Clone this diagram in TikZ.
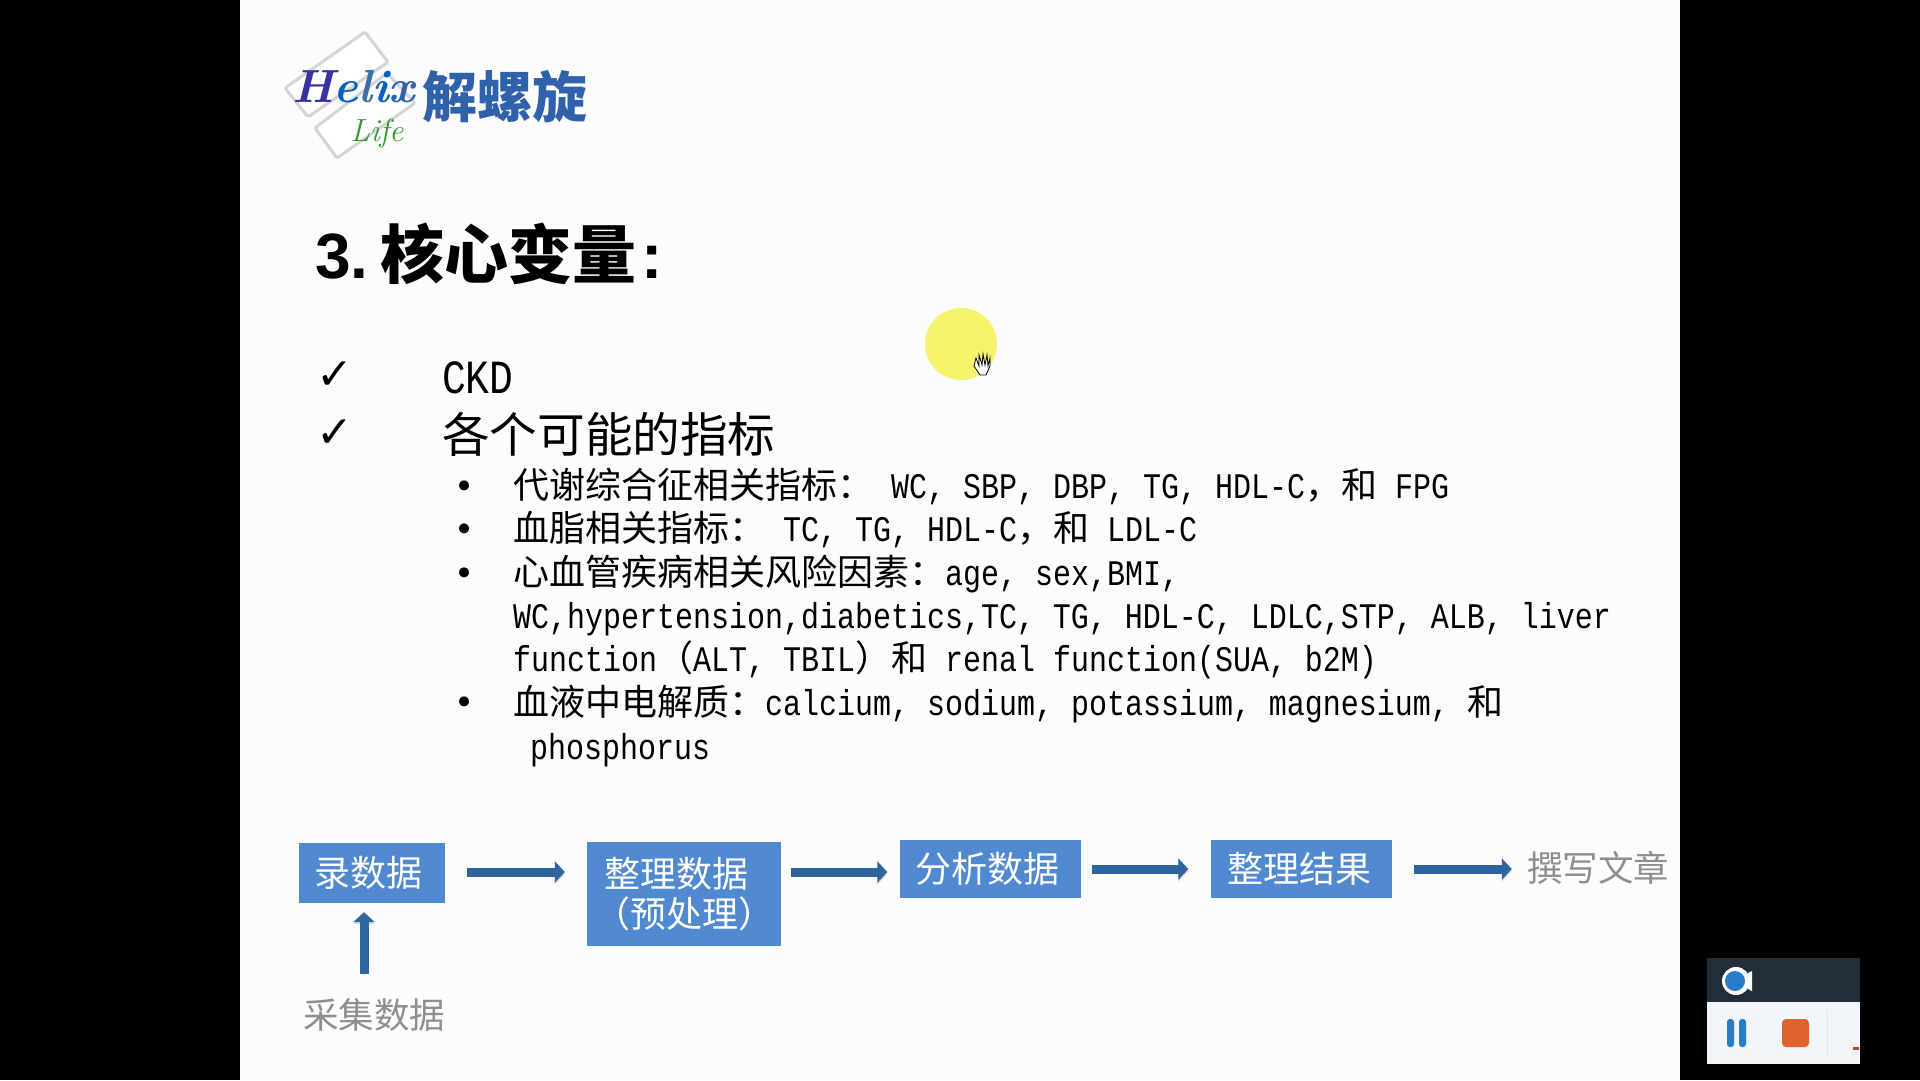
\documentclass[tikz,border=0pt]{standalone}
\usepackage{fontspec}
\usepackage{xcolor}
\usetikzlibrary{arrows.meta}
\setmainfont{Noto Sans CJK SC}
\newfontfamily\lat[FakeStretch=0.833]{Liberation Mono}
\newfontfamily\titlelat{Liberation Sans}
\newfontfamily\chk{DejaVu Sans}
\definecolor{boxblue}{HTML}{5189D0}
\definecolor{arrowblue}{HTML}{2F659F}
\definecolor{labelgrey}{HTML}{8E8E8E}
\definecolor{logoblue}{HTML}{2F62AB}
\definecolor{spotyellow}{HTML}{F4F46C}
\definecolor{bardark}{HTML}{222F38}
\definecolor{barlight}{HTML}{F2F6FB}
\definecolor{pauseblue}{HTML}{2A7BC8}
\definecolor{stoporange}{HTML}{E0622F}
\tikzset{
stepbox/.style={fill=boxblue,text=white,inner sep=0pt,align=center,font=\fontsize{36}{40}\selectfont},
greylabel/.style={text=labelgrey,inner sep=0pt,font=\fontsize{35.5}{41}\selectfont},
bodyline/.style={anchor=base west,inner sep=0pt,font=\fontsize{36}{36}\selectfont},
headline/.style={anchor=base west,inner sep=0pt,font=\fontsize{47.6}{50}\selectfont},
tick/.style={inner sep=0pt,font=\chk\fontsize{44}{44}\selectfont},
dot/.style={inner sep=0pt,font=\chk\fontsize{34}{34}\selectfont},
logopiece/.style={fill=white,draw=black!17,line width=3pt,rounded corners=2pt},
flow/.style={-{Triangle[length=10pt,width=21pt]},line width=9pt,draw=arrowblue,
  preaction={draw=black!15,transform canvas={yshift=-2pt}}}
}
\begin{document}
\begin{tikzpicture}[x=1pt,y=-1pt]
\useasboundingbox (0,0) rectangle (1920,1080);
\fill[black] (0,0) rectangle (1920,1080);
\fill[white!99!black] (240,0) rectangle (1680,1080);
\draw[logopiece] (285,88)--(365,32)--(388,62)--(308,117)--cycle;
\draw[logopiece] (315,128)--(387,73)--(415,103)--(337,158)--cycle;
\draw (292,87) node[anchor=west,inner sep=0pt,font=\fontsize{46.5}{48}\selectfont] (helix) {\fontspec{Latin Modern Roman}\bfseries\itshape\textcolor{blue!55!black!80}{H}\textcolor{blue!50!cyan!75!black}{e}\textcolor{cyan!60!blue!75!black}{l}\textcolor{blue!50!cyan!75!black}{i}\textcolor{logoblue}{x}};
\draw (377,133) node[inner sep=0pt,font=\fontsize{32}{34}\selectfont] (life) {\fontspec{Latin Modern Roman}\itshape\textcolor{green!50!black!80}{Life}};
\draw (505,97) node[inner sep=0pt,text=logoblue,font=\fontsize{55}{56}\selectfont\bfseries] (brand) {解螺旋};
\draw (315,278) node[anchor=base west,inner sep=0pt,font=\fontsize{64}{66}\selectfont\bfseries] (title) {{\titlelat 3.}\kern-3pt\ 核心变量\kern5pt{\titlelat :}};
\fill[spotyellow] (961,344) circle (36);
\draw[fill=white,line width=0.8pt] (976,358) -- (974,366) -- (980,375) -- (986,375) -- (990,366) -- (990,358) -- (988,366) -- (987,355) -- (985,365) -- (983,354) -- (982,365) -- (979,355) -- (979,366) -- cycle;
\draw (335,376) node[tick] (chka) {✓};
\draw (335,434) node[tick] (chkb) {✓};
\draw (442,393) node[headline] (ckd) {{\lat CKD}};
\draw (442,452) node[headline] (items) {各个可能的指标};
\draw (465,490) node[dot] (dota) {•};
\draw (465,533) node[dot] (dotb) {•};
\draw (465,577) node[dot] (dotc) {•};
\draw (465,706) node[dot] (dotd) {•};
\draw (513,498) node[bodyline] (linea) {代谢综合征相关指标：{\lat\ WC, SBP, DBP, TG, HDL-C}，和{\lat\ FPG}};
\draw (513,541) node[bodyline] (lineb) {血脂相关指标：{\lat\ TC, TG, HDL-C}，和{\lat\ LDL-C}};
\draw (513,585) node[bodyline] (linec) {心血管疾病相关风险因素：{\lat age, sex,BMI,}};
\draw (513,628) node[bodyline] (lined) {{\lat WC,hypertension,diabetics,TC, TG, HDL-C, LDLC,STP, ALB, liver}};
\draw (513,671) node[bodyline] (linee) {{\lat function}（{\lat ALT, TBIL}）和{\lat\ renal function(SUA, b2M)}};
\draw (513,715) node[bodyline] (linef) {血液中电解质：{\lat calcium, sodium, potassium, magnesium,\ }和};
\draw (530,759) node[bodyline] (lineg) {{\lat phosphorus}};
\draw (372,873) node[stepbox,minimum width=146pt,minimum height=60pt] (lu) {录数据\kern8pt};
\draw (684,894) node[stepbox,minimum width=194pt,minimum height=104pt] (zl) {整理数据\kern16pt\\（预处理）};
\draw (990,869) node[stepbox,minimum width=181pt,minimum height=58pt] (fx) {分析数据\kern6pt};
\draw (1301,869) node[stepbox,minimum width=181pt,minimum height=58pt] (jg) {整理结果\kern3pt};
\draw (1598,868) node[greylabel] (wz) {撰写文章};
\draw (374,1015) node[greylabel] (cj) {采集数据};
\draw[flow,shorten <=22pt,shorten >=22pt] ([yshift=1pt]lu.east)--([yshift=22pt]zl.west);
\draw[flow,shorten <=10pt,shorten >=12pt] ([yshift=22pt]zl.east)--([yshift=-3pt]fx.west);
\draw[flow,shorten <=11pt,shorten >=22pt] (fx.east)--(jg.west);
\draw[flow,shorten <=22pt,shorten >=15pt] (jg.east)--(jg.east -| wz.west);
\draw[flow,shorten <=24pt,shorten >=9pt] ([xshift=-10pt]cj.north)--([xshift=-8pt]lu.south);
\fill[barlight] (1707,958) rectangle (1860,1064);
\fill[bardark] (1707,958) rectangle (1860,1002);
\fill[white] (1736,981) circle (14);
\fill[pauseblue] (1735,981) circle (10);
\fill[white] (1748,973) -- (1752,971) -- (1752,991) -- (1748,989) -- cycle;
\fill[pauseblue,rounded corners=3pt] (1727,1019) rectangle (1734,1047);
\fill[pauseblue,rounded corners=3pt] (1739,1019) rectangle (1746,1047);
\fill[stoporange,rounded corners=4pt] (1782,1019) rectangle (1809,1047);
\draw[black!10] (1827,1010) -- (1827,1055);
\fill[stoporange!80!black] (1853,1047) rectangle (1859,1050);
\end{tikzpicture}
\end{document}
